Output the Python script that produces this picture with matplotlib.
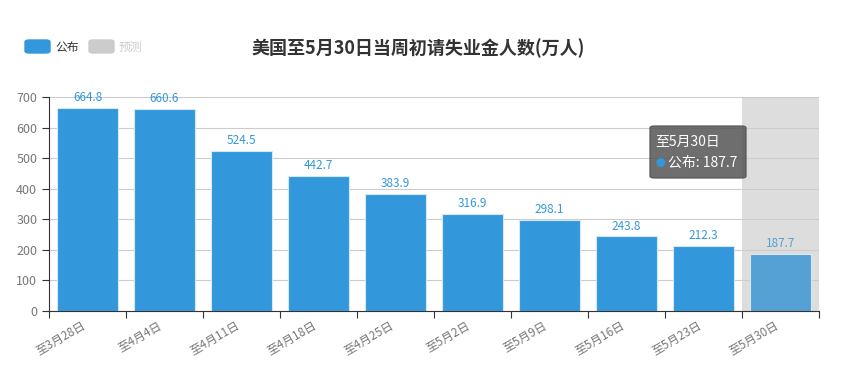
import matplotlib
matplotlib.use('Agg')
import matplotlib.pyplot as plt
from matplotlib.patches import FancyBboxPatch

plt.rcParams['font.family'] = ['Noto Sans CJK SC', 'DejaVu Sans']

# 数据
weeks = ['至3月28日', '至4月4日', '至4月11日', '至4月18日', '至4月25日',
         '至5月2日', '至5月9日', '至5月16日', '至5月23日', '至5月30日']
claims = [664.8, 660.6, 524.5, 442.7, 383.9, 316.9, 298.1, 243.8, 212.3, 187.7]
forecast_idx = 9  # 最后一周为预测区间

fig = plt.figure(figsize=(8.41, 3.88), dpi=100)
ax = fig.add_axes([49 / 841, 77 / 388, 770 / 841, 214 / 388])

x = list(range(len(weeks)))
colors = ['#3398db'] * len(weeks)
colors[forecast_idx] = '#55a0d4'

# 预测区域背景
ax.axvspan(forecast_idx - 0.5, forecast_idx + 0.5, color='#dddddd', zorder=0, lw=0)

ax.bar(x, claims, width=0.79, color=colors, edgecolor='#d6e8f6', linewidth=0.8, zorder=2)
for xi, v in zip(x, claims):
    ax.text(xi, v + 12, f'{v}', ha='center', va='bottom', fontsize=8.5,
            color='#3398db' if xi != forecast_idx else '#55a0d4')

ax.set_xlim(-0.5, len(weeks) - 0.5)
ax.set_ylim(0, 700)
ax.set_yticks(range(0, 701, 100))
ax.yaxis.grid(True, color='#cccccc', linewidth=0.8, zorder=1)
ax.set_axisbelow(True)

ax.set_xticks([i - 0.5 for i in range(len(weeks) + 1)])
ax.set_xticklabels([])
ax.set_xticks(x, minor=True)
ax.set_xticklabels(weeks, minor=True, rotation=30, ha='right', fontsize=8.5, color='#777777')
ax.tick_params(axis='x', which='minor', length=0, pad=6)
ax.tick_params(axis='x', which='major', length=5, color='#333333')
ax.tick_params(axis='y', labelsize=9, labelcolor='#777777', length=5, color='#333333')

for s in ['top', 'right']:
    ax.spines[s].set_visible(False)
ax.spines['left'].set_color('#333333')
ax.spines['bottom'].set_color('#333333')

fig.text(418 / 841, 1 - 48 / 388, '美国至5月30日当周初请失业金人数(万人)', ha='center', va='center',
         fontsize=13, fontweight='bold', color='#333333')

# 图例
fig.patches.append(FancyBboxPatch((25 / 841, 1 - 53 / 388), 25 / 841, 13 / 388,
                                  boxstyle='round,pad=0,rounding_size=0.005',
                                  transform=fig.transFigure, color='#3398db'))
fig.text(55 / 841, 1 - 47 / 388, '公布', fontsize=8.5, color='#333333', va='center')
fig.patches.append(FancyBboxPatch((89 / 841, 1 - 53 / 388), 25 / 841, 13 / 388,
                                  boxstyle='round,pad=0,rounding_size=0.005',
                                  transform=fig.transFigure, color='#cccccc'))
fig.text(119 / 841, 1 - 47 / 388, '预测', fontsize=8.5, color='#cccccc', va='center')

# 提示框
fig.patches.append(FancyBboxPatch((650 / 841, 1 - 178 / 388), 96 / 841, 52 / 388,
                                  boxstyle='round,pad=0,rounding_size=0.005',
                                  transform=fig.transFigure, color='#555555', alpha=0.85))
fig.text(655 / 841, 1 - 142 / 388, '至5月30日', fontsize=10, color='white', va='center')
fig.text(655 / 841, 1 - 163 / 388, '●', fontsize=7, color='#3398db', va='center')
fig.text(668 / 841, 1 - 163 / 388, f'公布: {claims[forecast_idx]}', fontsize=10, color='white', va='center')

plt.savefig('out.png', dpi=100)
